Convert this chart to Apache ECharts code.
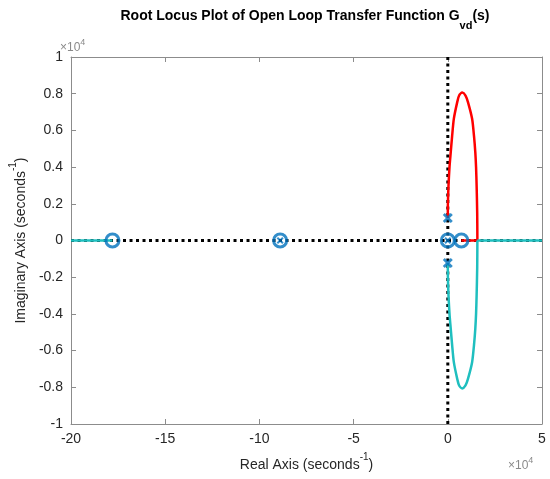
<!DOCTYPE html>
<html>
<head>
<meta charset="utf-8">
<script src="https://cdn.jsdelivr.net/npm/echarts@6/dist/echarts.min.js"></script>
<style>html,body{margin:0;padding:0;background:#fff;}#c{width:550px;height:479px;}</style>
</head>
<body>
<div id="c"></div>
<script>
// values in units of 1e4
const xTicks = [-20, -15, -10, -5, 0, 5];
const yTicks = [-1, -0.8, -0.6, -0.4, -0.2, 0, 0.2, 0.4, 0.6, 0.8, 1];
const redLoop = [[0,0.123],[0.005,0.2],[0.036,0.297],[0.09,0.4],[0.155,0.48],[0.23,0.57],[0.32,0.663],[0.5,0.754],[0.6,0.79],[0.77,0.806],[0.94,0.79],[1.07,0.754],[1.29,0.663],[1.39,0.57],[1.46,0.48],[1.5,0.4],[1.53,0.297],[1.56,0.15],[1.57,0]];
const redReal = [[1.57,0],[0.72,0]];
const cyanLoop = [[0,-0.123],[0.005,-0.2],[0.036,-0.297],[0.09,-0.4],[0.155,-0.48],[0.23,-0.57],[0.32,-0.663],[0.5,-0.754],[0.6,-0.79],[0.77,-0.806],[0.94,-0.79],[1.07,-0.754],[1.29,-0.663],[1.39,-0.57],[1.46,-0.48],[1.5,-0.4],[1.53,-0.297],[1.56,-0.15],[1.57,0]];
const cyanReal = [[1.57,0],[5,0]];
const cyanLeft = [[-20,0],[-17.8,0]];
const realAxisLine = [[-20,0],[5,0]];
const imagAxisLine = [[0,-1],[0,1]];
const zeros = [[-17.8,0],[-8.9,0],[0,0],[0.72,0]];
const poles = [[0,0.123],[0,-0.123]];
const cancelledPoles = [[-8.9,0],[0,0]];

const blue = '#0072BD';
const chart = echarts.init(document.getElementById('c'));
const axisGray = '#8c8c8c';
const txt = '#262626';
const fnt = 'Liberation Sans, Arial, sans-serif';
const xPath = 'path://M2,0L5,3L8,0L10,2L7,5L10,8L8,10L5,7L2,10L0,8L3,5L0,2Z';
const lineSeries = (data, color, smooth) => ({
  type: 'line', data, symbol: 'none', smooth: smooth || false,
  lineStyle: { color, width: 2.5 }, z: 2
});
chart.setOption({
  animation: false,
  title: {
    text: '{b|Root Locus Plot of Open Loop Transfer Function G}{s|vd}{b|(s)}',
    left: 300, top: 4, textAlign: 'center',
    textStyle: { rich: {
      b: { fontFamily: fnt, fontSize: 14, fontWeight: 'bold', color: '#000', lineHeight: 22, verticalAlign: 'top' },
      s: { fontFamily: fnt, fontSize: 11, fontWeight: 'bold', color: '#000', lineHeight: 22, verticalAlign: 'bottom' }
    }}
  },
  grid: { left: 58, right: 8, top: 57, bottom: 55 },
  xAxis: [{
    type: 'value', min: -20, max: 5, interval: 5,
    axisLine: { show: true, onZero: false, lineStyle: { color: axisGray } },
    axisTick: { inside: true, length: 5, lineStyle: { color: axisGray } },
    splitLine: { show: false },
    axisLabel: { color: txt, fontFamily: fnt, fontSize: 14, margin: 8 },
    name: '{n|Real Axis (seconds}{p|-1}{n|)}', nameLocation: 'middle', nameGap: 28,
    nameTextStyle: { rich: {
      n: { fontFamily: fnt, fontSize: 14, color: txt, lineHeight: 20, verticalAlign: 'bottom' },
      p: { fontFamily: fnt, fontSize: 10, color: txt, lineHeight: 20, verticalAlign: 'top' }
    }}
  }, {
    type: 'value', position: 'top', min: -20, max: 5, interval: 5,
    axisLine: { show: true, onZero: false, lineStyle: { color: axisGray } },
    axisTick: { inside: true, length: 5, lineStyle: { color: axisGray } },
    axisLabel: { show: false }, splitLine: { show: false }
  }],
  yAxis: [{
    type: 'value', min: -1, max: 1, interval: 0.2,
    axisLine: { show: true, onZero: false, lineStyle: { color: axisGray } },
    axisTick: { inside: true, length: 5, lineStyle: { color: axisGray } },
    splitLine: { show: false },
    axisLabel: { color: txt, fontFamily: fnt, fontSize: 14, margin: 8,
      formatter: v => String(Math.round(v * 10) / 10) },
    name: '{n|Imaginary Axis (seconds}{p|-1}{n|)}', nameLocation: 'middle', nameGap: 36, nameRotate: 90,
    nameTextStyle: { rich: {
      n: { fontFamily: fnt, fontSize: 14, color: txt, lineHeight: 20, verticalAlign: 'bottom' },
      p: { fontFamily: fnt, fontSize: 10, color: txt, lineHeight: 20, verticalAlign: 'top' }
    }}
  }, {
    type: 'value', position: 'right', min: -1, max: 1, interval: 0.2,
    axisLine: { show: true, onZero: false, lineStyle: { color: axisGray } },
    axisTick: { inside: true, length: 5, lineStyle: { color: axisGray } },
    axisLabel: { show: false }, splitLine: { show: false }
  }],
  graphic: [
    { type: 'text', left: 60, top: 38, style: { text: '{a|×10}{e|4}', rich: {
      a: { fontFamily: fnt, fontSize: 12, fill: '#8a8a8a', lineHeight: 16, verticalAlign: 'bottom' },
      e: { fontFamily: fnt, fontSize: 9, fill: '#8a8a8a', lineHeight: 16, verticalAlign: 'top' } } } },
    { type: 'text', left: 508, top: 456, style: { text: '{a|×10}{e|4}', rich: {
      a: { fontFamily: fnt, fontSize: 12, fill: '#8a8a8a', lineHeight: 16, verticalAlign: 'bottom' },
      e: { fontFamily: fnt, fontSize: 9, fill: '#8a8a8a', lineHeight: 16, verticalAlign: 'top' } } } }
  ],
  series: [
    { type: 'line', data: realAxisLine, symbol: 'none', lineStyle: { color: '#000', width: 3, type: [3, 3.5] }, z: 1 },
    { type: 'line', data: imagAxisLine, symbol: 'none', lineStyle: { color: '#000', width: 3, type: [3, 3.5] }, z: 1 },
    lineSeries(redLoop, '#ff0000', 0.25),
    lineSeries(redReal, '#ff0000'),
    lineSeries(cyanLoop, '#1fbfbf', 0.25),
    lineSeries(cyanReal, '#1fbfbf'),
    lineSeries(cyanLeft, '#1fbfbf'),
    { type: 'scatter', data: zeros, symbol: 'circle', symbolSize: 13,
      itemStyle: { color: 'rgba(0,0,0,0)', borderColor: blue, borderWidth: 3 }, z: 5 },
    { type: 'scatter', data: poles, symbol: xPath, symbolSize: 10,
      itemStyle: { color: blue, borderWidth: 0 }, z: 6 },
    { type: 'scatter', data: cancelledPoles, symbol: xPath, symbolSize: 7,
      itemStyle: { color: blue, borderWidth: 0 }, z: 6 }
  ]
});
</script>
</body>
</html>
